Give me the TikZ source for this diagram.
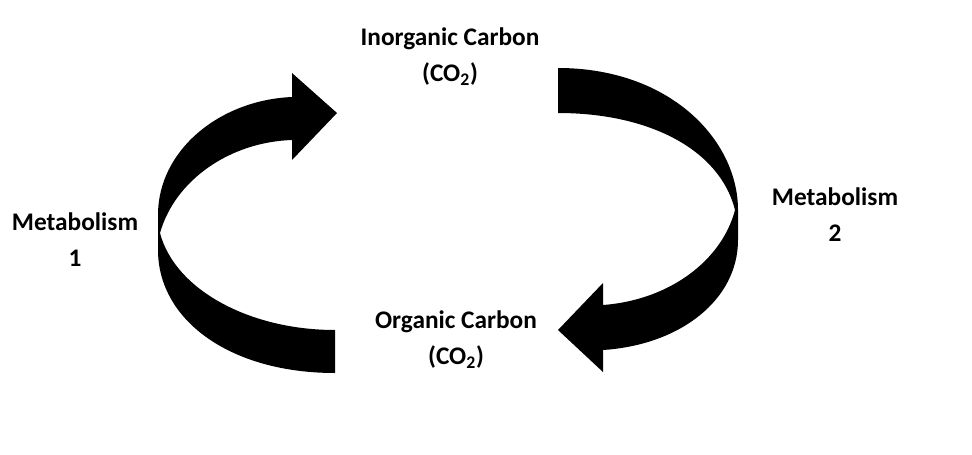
\documentclass[tikz,border=0pt]{standalone}
\usepackage{fontspec}
\setmainfont{Carlito}
\begin{document}
\begin{tikzpicture}[x=0.75pt,y=-0.75pt,
  lbl/.style={font=\bfseries\fontsize{19}{27}\selectfont,align=center,inner sep=0pt},
  arr/.style={fill=black,draw=none}]
\useasboundingbox (0,0) rectangle (972,454);
\fill[arr] (335,373) .. controls (230,373) and (158,320) .. (158,250) -- (158,215)
  .. controls (158,150) and (220,100) .. (292,97) -- (292,73) -- (337,113) -- (292,160) -- (292,140)
  .. controls (230,142) and (175,180) .. (160,233)
  .. controls (175,290) and (250,330) .. (335,330) -- cycle;
\fill[arr] (558,68) .. controls (670,68) and (738,140) .. (738,210) -- (738,240)
  .. controls (738,300) and (680,345) .. (603,350) -- (603,372) -- (558,330) -- (603,283) -- (603,305)
  .. controls (670,300) and (722,260) .. (735,210)
  .. controls (720,150) and (650,113) .. (558,113) -- cycle;
\node[lbl] (inorg) at (450,57) {Inorganic Carbon\\(CO\textsubscript{2})};
\node[lbl] (org) at (456,340) {Organic Carbon\\(CO\textsubscript{2})};
\node[lbl] (m1) at (75,240) {Metabolism\\1};
\node[lbl] (m2) at (835,215) {Metabolism\\2};
\end{tikzpicture}
\end{document}
